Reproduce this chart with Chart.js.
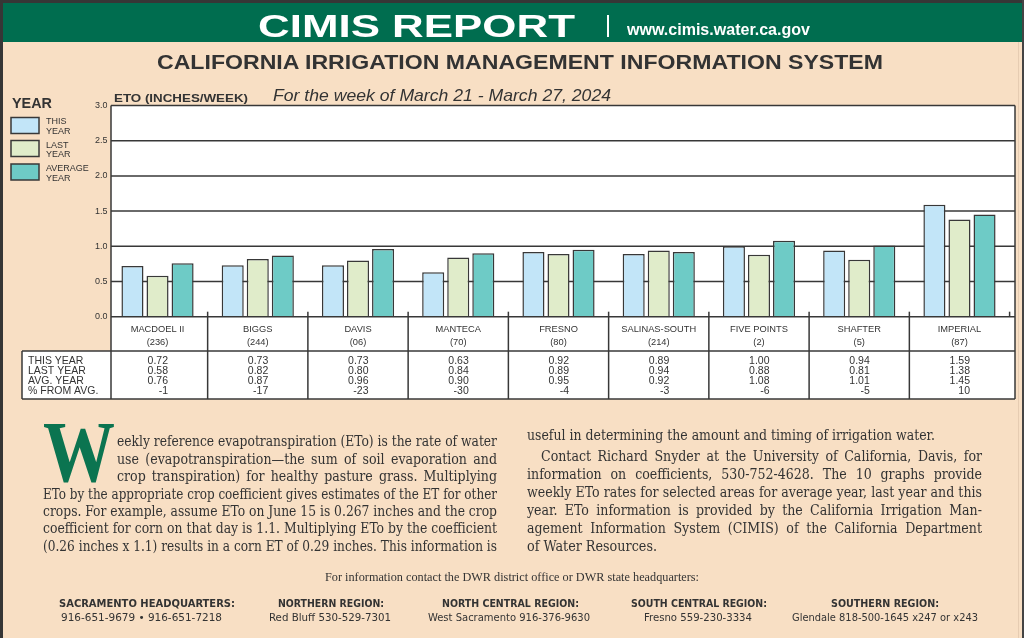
<!DOCTYPE html>
<html><head><meta charset="utf-8">
<script src="https://cdn.jsdelivr.net/npm/chart.js@4.4.1/dist/chart.umd.min.js"></script>
<style>
html,body{margin:0;padding:0;}
body{width:1024px;height:638px;overflow:hidden;position:relative;background:#f8dfc4;font-family:"Liberation Sans",Arial,sans-serif;}
.blk{position:absolute;}
.t{position:absolute;white-space:nowrap;transform-origin:0 0;line-height:1;}
#c{position:absolute;left:0;top:0;}
</style></head>
<body>
<div class="blk" style="left:0;top:0;width:3px;height:638px;background:#363636"></div>
<div class="blk" style="left:0;top:0;width:1024px;height:3px;background:#363636"></div>
<div class="blk" style="left:3px;top:3px;width:1019px;height:39px;background:#006d4f"></div>
<div class="blk" style="left:1018px;top:42px;width:1px;height:596px;background:#e6ccb2"></div>
<div class="blk" style="left:1022px;top:0;width:2px;height:638px;background:#444"></div>
<div class="blk" style="left:607px;top:15px;width:1.5px;height:22px;background:#fff"></div>
<canvas id="c" width="1024" height="638"></canvas>
<script>
// ---------- data ----------
const categories = ['MACDOEL II','BIGGS','DAVIS','MANTECA','FRESNO','SALINAS-SOUTH','FIVE POINTS','SHAFTER','IMPERIAL'];
const stationIds = ['(236)','(244)','(06)','(70)','(80)','(214)','(2)','(5)','(87)'];
const thisYear  = [0.72,0.73,0.73,0.63,0.92,0.89,1.00,0.94,1.59];
const lastYear  = [0.58,0.82,0.80,0.84,0.89,0.94,0.88,0.81,1.38];
const avgYear   = [0.76,0.87,0.96,0.90,0.95,0.92,1.08,1.01,1.45];
const pctFromAvg = [-1,-17,-23,-30,-4,-3,-6,-5,10];
const seriesNames = ['THIS YEAR','LAST YEAR','AVERAGE YEAR'];
const legendLines = [['THIS','YEAR'],['LAST','YEAR'],['AVERAGE','YEAR']];
const rowLabels = ['THIS YEAR','LAST YEAR','AVG. YEAR','% FROM AVG.'];
const yMin = 0, yMax = 3, yStep = 0.5;

const COLORS = ['#c2e5f8','#e0ecca','#6ecbc6'];
const INK = '#383838';
const FR_L = 111, FR_R = 1015, SEP_Y = 351, BOT_Y = 399, LBL_L = 22;

const tablePlugin = {
  id:'cimisTable',
  beforeDraw(chart){
    const c = chart.ctx, y = chart.scales.y;
    const top = y.getPixelForValue(yMax);
    c.save(); c.fillStyle = '#fff';
    c.fillRect(FR_L, top, FR_R-FR_L, BOT_Y-top);
    c.fillRect(LBL_L, SEP_Y, FR_L-LBL_L, BOT_Y-SEP_Y);
    c.restore();
  },
  beforeDatasetsDraw(chart){
    const c = chart.ctx, y = chart.scales.y;
    c.save(); c.strokeStyle = INK; c.lineWidth = 1.5;
    y.ticks.forEach(t => {
      if (t.value === yMin) return;
      const py = y.getPixelForValue(t.value);
      c.beginPath(); c.moveTo(FR_L, py); c.lineTo(FR_R, py); c.stroke();
    });
    c.restore();
  },
  afterDatasetsDraw(chart){
    const c = chart.ctx, x = chart.scales.x, y = chart.scales.y;
    const y0 = y.getPixelForValue(yMin), yTop = y.getPixelForValue(yMax);
    c.save(); c.strokeStyle = INK; c.lineWidth = 1.5;
    const line = (x1,y1,x2,y2)=>{c.beginPath();c.moveTo(x1,y1);c.lineTo(x2,y2);c.stroke();};
    line(FR_L, y0, FR_R, y0);
    line(FR_L, yTop, FR_L, BOT_Y);
    line(FR_R, yTop, FR_R, BOT_Y);
    line(LBL_L, SEP_Y, FR_R, SEP_Y);
    line(LBL_L, BOT_Y, FR_R, BOT_Y);
    line(LBL_L, SEP_Y, LBL_L, BOT_Y);
    const n = categories.length;
    const half = (x.getPixelForValue(1)-x.getPixelForValue(0))/2;
    for (let i=0;i<n;i++){
      const bx = x.getPixelForValue(i)+half;
      line(bx, y0-5, bx, y0);
      if (i<n-1) line(bx, y0, bx, BOT_Y);
    }
    // category names
    c.fillStyle = '#333'; c.textAlign='center'; c.textBaseline='alphabetic';
    c.font = '9.3px "Liberation Sans", Arial, sans-serif';
    for (let i=0;i<n;i++){
      const cx = x.getPixelForValue(i);
      c.fillText(categories[i], cx, 332);
      c.fillText(stationIds[i], cx, 344.5);
    }
    // values
    const rows = [thisYear.map(v=>v.toFixed(2)), lastYear.map(v=>v.toFixed(2)), avgYear.map(v=>v.toFixed(2)), pctFromAvg.map(v=>String(v))];
    const bases = [363.8, 373.8, 383.8, 394];
    c.font = '10.5px "Liberation Sans", Arial, sans-serif';
    c.textAlign = 'right';
    rows.forEach((r,ri)=>{
      r.forEach((s,i)=>{ c.fillText(s, x.getPixelForValue(i)+10.5, bases[ri]); });
    });
    c.textAlign = 'left';
    rowLabels.forEach((s,ri)=> c.fillText(s, 28, bases[ri]));
    // legend
    const boxes = [117.5, 140.5, 164];
    const lb = [[124.3,134.3],[147.5,157.3],[171,180.6]];
    c.font = '9px "Liberation Sans", Arial, sans-serif';
    chart.data.datasets.forEach((ds,k)=>{
      c.fillStyle = ds.backgroundColor;
      c.fillRect(11, boxes[k], 28, 16);
      c.strokeRect(11, boxes[k], 28, 16);
      c.fillStyle = '#333';
      legendLines[k].forEach((s,j)=> c.fillText(s, 46, lb[k][j]));
    });
    c.restore();
  }
};

new Chart(document.getElementById('c'), {
  type:'bar',
  data:{
    labels: categories,
    datasets: [thisYear, lastYear, avgYear].map((d,k)=>({
      label: seriesNames[k], data: d, backgroundColor: COLORS[k],
      borderColor: INK, borderWidth: 1.5, borderSkipped: 'start',
      categoryPercentage: 0.75, barPercentage: 0.88
    }))
  },
  options:{
    responsive:false, animation:false, devicePixelRatio:1,
    layout:{padding:{left:0, right:14.4, top:105.5, bottom:321.3}},
    scales:{
      x:{display:false, offset:true},
      y:{
        min:yMin, max:yMax,
        ticks:{stepSize:yStep, callback:v=>Number(v).toFixed(1), color:'#333', padding:0,
               font:{size:9, family:'"Liberation Sans", Arial, sans-serif'}},
        grid:{display:false, drawTicks:false}, border:{display:false},
        afterFit:s=>{ s.width = 107.4; }
      }
    },
    plugins:{legend:{display:false}, tooltip:{enabled:false}}
  },
  plugins:[tablePlugin]
});

// ---------- HTML text ----------
const SANS = '"Liberation Sans", Arial, sans-serif';
const NARROW = '"Liberation Sans Narrow", "DejaVu Sans Condensed", "Liberation Sans", Arial, sans-serif';
const SERIF = '"Liberation Serif", "Times New Roman", serif';
const BODY = '"DejaVu Serif Condensed", "DejaVu Serif", serif';
function put(txt, o){
  const d = document.createElement('div');
  d.className = 't'; d.textContent = txt;
  d.style.fontFamily = o.family || SANS;
  d.style.fontSize = o.size+'px';
  d.style.fontWeight = o.weight || 'normal';
  d.style.fontStyle = o.style || 'normal';
  if (o.stretch) d.style.fontStretch = o.stretch;
  d.style.color = o.color || '#333';
  d.style.left = '0px'; d.style.top = '0px';
  document.body.appendChild(d);
  const m = document.createElement('span');
  m.style.cssText = 'display:inline-block;width:0;height:0;vertical-align:baseline;';
  d.appendChild(m);
  const r = d.getBoundingClientRect();
  const nat = r.width, baseOff = m.getBoundingClientRect().top - r.top;
  let w = nat, sx = 1;
  if (o.w){
    w = o.w;
    const spaces = (txt.match(/ /g)||[]).length;
    if (o.justify && o.w >= nat && spaces) d.style.wordSpacing = ((o.w-nat)/spaces)+'px';
    else sx = o.w/nat;
  }
  if (sx !== 1) d.style.transform = 'scaleX('+sx+')';
  const left = o.align==='center' ? o.x - w/2 : o.x;
  d.style.left = left+'px';
  d.style.top = (o.base - baseOff)+'px';
  return d;
}

put('CIMIS REPORT', {x:258, base:37, size:32, weight:'bold', color:'#fff', w:317});
put('www.cimis.water.ca.gov', {x:627, base:34.5, size:16, weight:'bold', color:'#fff', w:183});
put('CALIFORNIA IRRIGATION MANAGEMENT INFORMATION SYSTEM', {x:157, base:69, size:19.5, weight:'bold', color:'#333', w:726});
put('For the week of March 21 - March 27, 2024', {x:273, base:101, size:16.5, style:'italic', color:'#333', w:338});
put('ETO (INCHES/WEEK)', {x:114, base:101.7, size:11.5, weight:'bold', color:'#333', w:134});
put('YEAR', {x:12, base:108, size:14, weight:'bold', color:'#333', w:40});

// drop cap
put('W', {x:43, base:481, size:87, weight:'bold', family:SERIF, color:'#0b7450', w:72});

const leftLines = [
  ['eekly reference evapotranspiration (ETo) is the rate of water', 117, 446, 380, true],
  ['use (evapotranspiration\u2014the sum of soil evaporation and', 117, 463.5, 380, true],
  ['crop transpiration) for healthy pasture grass. Multiplying', 117, 481, 380, true],
  ['ETo by the appropriate crop coefficient gives estimates of the ET for other', 43, 498.5, 454, true],
  ['crops. For example, assume ETo on June 15 is 0.267 inches and the crop', 43, 516, 454, true],
  ['coefficient for corn on that day is 1.1. Multiplying ETo by the coefficient', 43, 533.2, 454, true],
  ['(0.26 inches x 1.1) results in a corn ET of 0.29 inches. This information is', 43, 550.5, 454, true]
];
const rightLines = [
  ['useful in determining the amount and timing of irrigation water.', 527, 439.5, 408, false],
  ['Contact Richard Snyder at the University of California, Davis, for', 541, 460.7, 441, true],
  ['information on coefficients, 530-752-4628. The 10 graphs provide', 527, 478.6, 455, true],
  ['weekly ETo rates for selected areas for average year, last year and this', 527, 496.6, 455, true],
  ['year. ETo information is provided by the California Irrigation Man-', 527, 514.5, 455, true],
  ['agement Information System (CIMIS) of the California Department', 527, 532.6, 455, true],
  ['of Water Resources.', 527, 550.6, 130, false]
];
leftLines.concat(rightLines).forEach(l=>{
  put(l[0], {x:l[1], base:l[2], size:14, family:BODY, stretch:'condensed', color:'#333', w:l[3], justify:l[4]});
});

put('For information contact the DWR district office or DWR state headquarters:', {x:512, base:581, size:11.5, family:SERIF, color:'#333', w:374, align:'center'});
const offices = [
  ['SACRAMENTO HEADQUARTERS:', 147, 176, '916-651-9679  \u2022  916-651-7218', 141, 161],
  ['NORTHERN REGION:', 331, 106, 'Red Bluff   530-529-7301', 330, 122],
  ['NORTH CENTRAL REGION:', 510, 137, 'West Sacramento  916-376-9630', 509, 162],
  ['SOUTH CENTRAL REGION:', 699, 136, 'Fresno  559-230-3334', 698, 108],
  ['SOUTHERN REGION:', 885, 108, 'Glendale  818-500-1645 x247 or x243', 885, 186]
];
offices.forEach(o=>{
  put(o[0], {x:o[1], base:607, size:11, weight:'bold', family:NARROW, stretch:'condensed', color:'#333', w:o[2], align:'center'});
  put(o[3], {x:o[4], base:620.5, size:11, family:NARROW, stretch:'condensed', color:'#333', w:o[5], align:'center'});
});
</script>
</body></html>
